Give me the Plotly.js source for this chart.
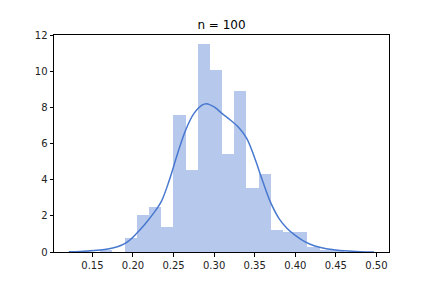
<!DOCTYPE html>
<html>
<head>
<meta charset="utf-8">
<script src="https://cdn.plot.ly/plotly-3.0.1.min.js"></script>
<style>html,body{margin:0;padding:0;background:#fff}#chart{width:432px;height:288px}</style>
</head>
<body>
<div id="chart"></div>
<script>
// Histogram bin edges
const binEdges = [0.1597, 0.1747, 0.1897, 0.2047, 0.2197, 0.2348, 0.2498, 0.2648, 0.2798, 0.2948,
                  0.3098, 0.3248, 0.3398, 0.3548, 0.3698, 0.3849, 0.3999, 0.4149, 0.4299, 0.4449, 0.4599];
// Density heights per bin
const binHeights = [0.13, 0, 0.76, 2.04, 2.48, 1.37, 7.59, 4.54, 11.48, 10.09,
                    5.43, 8.93, 3.54, 4.32, 1.2, 1.09, 1.09, 0.28, 0.13, 0.1];
// KDE curve points
const kdeX = [0.121, 0.135, 0.152, 0.165, 0.175, 0.185, 0.195, 0.205, 0.215, 0.225, 0.235, 0.245,
              0.255, 0.265, 0.275, 0.285, 0.2905, 0.3, 0.31, 0.32, 0.33, 0.34, 0.35, 0.36, 0.37,
              0.38, 0.39, 0.40, 0.41, 0.42, 0.43, 0.44, 0.45, 0.46, 0.47, 0.48, 0.497];
const kdeY = [0.01, 0.03, 0.08, 0.14, 0.22, 0.36, 0.62, 1.05, 1.55, 2.12, 2.8, 4.0,
              5.45, 6.75, 7.65, 8.12, 8.2, 8.02, 7.65, 7.3, 6.9, 6.3, 5.2, 3.9, 2.7,
              1.85, 1.3, 0.92, 0.62, 0.4, 0.26, 0.16, 0.11, 0.07, 0.04, 0.02, 0.005];
const xTicks = [0.15, 0.20, 0.25, 0.30, 0.35, 0.40, 0.45, 0.50];
const yTicks = [0, 2, 4, 6, 8, 10, 12];
const titleText = "n = 100";

const centers = [], widths = [];
for (let i = 0; i < binHeights.length; i++) {
  centers.push((binEdges[i] + binEdges[i + 1]) / 2);
  widths.push(binEdges[i + 1] - binEdges[i]);
}

const traces = [
  {type: 'bar', x: centers, y: binHeights, width: widths,
   marker: {color: 'rgba(72,120,207,0.4)', line: {width: 0}}, hoverinfo: 'skip'},
  {type: 'scatter', mode: 'lines', x: kdeX, y: kdeY, line: {color: '#4878CF', width: 1.5, shape: 'spline'}}
];

const axisCommon = {
  showline: true, mirror: true, linecolor: '#000', linewidth: 1,
  ticks: 'outside', ticklen: 3.5, tickwidth: 1, tickcolor: '#000',
  showgrid: false, zeroline: false,
  tickfont: {family: 'DejaVu Sans', size: 10, color: '#222'}
};

const layout = {
  width: 432, height: 288,
  margin: {l: 54, r: 43, t: 35, b: 36},
  paper_bgcolor: '#fff', plot_bgcolor: '#fff',
  showlegend: false, bargap: 0,
  title: {text: titleText, x: 0.5, xref: 'paper', y: 0.915, yanchor: 'middle',
          font: {family: 'DejaVu Sans', size: 12, color: '#000'}},
  xaxis: Object.assign({}, axisCommon, {range: [0.1027, 0.5155], tickvals: xTicks,
          ticktext: xTicks.map(v => v.toFixed(2))}),
  yaxis: Object.assign({}, axisCommon, {range: [0, 12], tickvals: yTicks,
          ticktext: yTicks.map(String)})
};

Plotly.newPlot('chart', traces, layout, {displayModeBar: false, staticPlot: true});
</script>
</body>
</html>
